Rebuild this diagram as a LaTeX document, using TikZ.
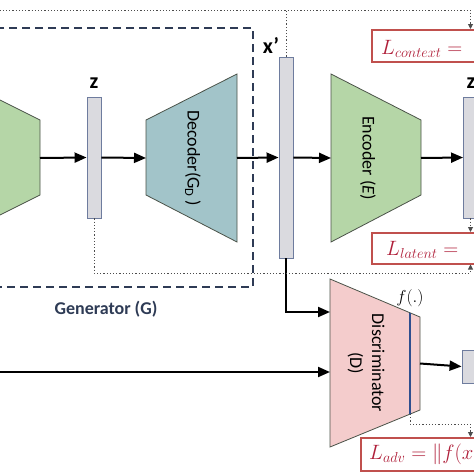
\documentclass[tikz,border=0pt]{standalone}
\usepackage{fontspec}
\setsansfont{Carlito}
\usetikzlibrary{arrows.meta}
\definecolor{encgreen}{HTML}{B5D6A7}
\definecolor{decteal}{HTML}{A2C4C9}
\definecolor{dispink}{HTML}{F4CCCC}
\definecolor{barfill}{HTML}{DADADF}
\definecolor{barline}{HTML}{6E7C9E}
\definecolor{lossline}{HTML}{C0504D}
\definecolor{losstext}{HTML}{B0203A}
\definecolor{gencol}{HTML}{2E3B55}
\definecolor{featblue}{HTML}{2F4F8F}
\definecolor{trapline}{HTML}{4A5248}
\begin{document}
\begin{tikzpicture}[x=1pt,y=-1pt,
  arr/.style={line width=2pt,-{Triangle[length=12pt,width=10pt]}},
  dots/.style={draw=black!70,line width=0.9pt,dash pattern=on 1.2pt off 2pt},
  dotarr/.style={dots,-{Triangle[length=5pt,width=5pt]}},
  bar/.style={draw=barline,fill=barfill,line width=0.9pt,inner sep=0pt,minimum width=14pt},
  lossbox/.style={draw=lossline,fill=white,line width=1.5pt,inner sep=0pt,anchor=north west,minimum width=130pt},
  losstxt/.style={anchor=base west,inner sep=0pt,text=losstext,font=\fontsize{21.5}{25}\selectfont},
  trap/.style={draw=trapline,line width=0.8pt},
  lbl/.style={font=\sffamily\bfseries\fontsize{22}{26}\selectfont,inner sep=0pt},
  rot/.style={rotate=-90,font=\sffamily\fontsize{18}{22}\selectfont,inner sep=0pt,align=center}
]
\useasboundingbox (0,0) rectangle (474,474);
\clip (0,0) rectangle (474,474);

% generator dashed box
\draw[gencol,line width=1.3pt,dash pattern=on 8pt off 5pt] (-20,28) rectangle (253,287);
\node[font=\sffamily\bfseries\fontsize{18}{22}\selectfont,text=gencol] (genlbl) at (106,309) {Generator (G)};

% trapezoids
\draw[trap,fill=encgreen] (-60,70) -- (40,120) -- (40,195) -- (-60,245) -- cycle;
\draw[trap,fill=decteal] (146,120) -- (237,74) -- (237,242) -- (146,195) -- cycle;
\draw[trap,fill=encgreen] (331,74) -- (421,120) -- (421,195) -- (331,242) -- cycle;
\draw[trap,fill=dispink] (330,279) -- (420,317) -- (420,410) -- (330,447) -- cycle;
\coordinate (ge) at (40,158);
\coordinate (dW) at (146,158);
\coordinate (dE) at (237,158);
\coordinate (eW) at (331,158);
\coordinate (eE) at (421,158);
\coordinate (dsE) at (420,363.5);
\coordinate (dsIn1) at (330,312);
\coordinate (dsIn2) at (330,372);
\coordinate (xin) at (-10,10);
\coordinate (realin) at (-10,372);
\coordinate (ly) at (0,273);
\coordinate (ftop) at (410,313);
\coordinate (fbot) at (410,414);

\node[rot] (dectxt) at (193,158) {Decoder(G\textsubscript{D}\,)};
\node[rot] (enctxt) at (368,158) {Encoder (\textit{E})};
\node[rot] (distxt) at (366,363) {Discriminator\\(D)};

% feature line
\draw[featblue,line width=1.8pt] (ftop) -- (fbot);
\node[inner sep=0pt,font=\fontsize{19}{22}\selectfont] (flbl) at (410,298) {$f(.)$};

% bars
\node[bar,minimum height=121pt] (zbar) at (94,157.5) {};
\node[bar,minimum height=201pt] (xpbar) at (286,157.5) {};
\node[bar,minimum height=121pt] (zzbar) at (470.5,157.5) {};
\node[bar,minimum width=20pt,minimum height=33pt] (outbox) at (472,366.5) {};
\node[lbl] (zlbl) at (94,83) {z};
\node[lbl] (xplbl) at (271,45) {x’};
\node[lbl] (zzlbl) at (471,83) {z};

% loss boxes
\node[lossbox,minimum height=32pt] (ctxbox) at (371,29) {};
\node[lossbox,minimum height=31pt] (latbox) at (371,232) {};
\node[lossbox,minimum height=33pt] (advbox) at (360,437) {};
\node[losstxt] (ctxtxt) at (381,54) {$L_{context} =$};
\node[losstxt] (lattxt) at (386,255) {$L_{latent} =$};
\node[losstxt] (advtxt) at (369,459) {$L_{adv} = \|f(x$};

% main arrows
\draw[arr] (ge) -- (zbar.west);
\draw[arr] (zbar.east) -- (dW);
\draw[arr] (dE) -- (xpbar.west);
\draw[arr] (xpbar.east) -- (eW);
\draw[arr] (eE) -- (zzbar.west);
\draw[arr] (xpbar.south) |- (dsIn1);
\draw[arr] (realin) -- (dsIn2);
\draw[arr] (dsE) -- (outbox.west);

% dotted loss connectors
\draw[dotarr] (xin) -| (zzbar |- ctxbox.north);
\draw[dots] (xpbar.north) -- (xpbar.north |- xin);
\draw[dotarr] (zbar.south) -- (zbar.south |- ly) -| (zzbar |- latbox.south);
\draw[dotarr] (zzbar.south) -- (zzbar |- latbox.north);
\draw[dotarr] (fbot) -- ++(0,10) -| (zzbar |- advbox.north);
\end{tikzpicture}
\end{document}
